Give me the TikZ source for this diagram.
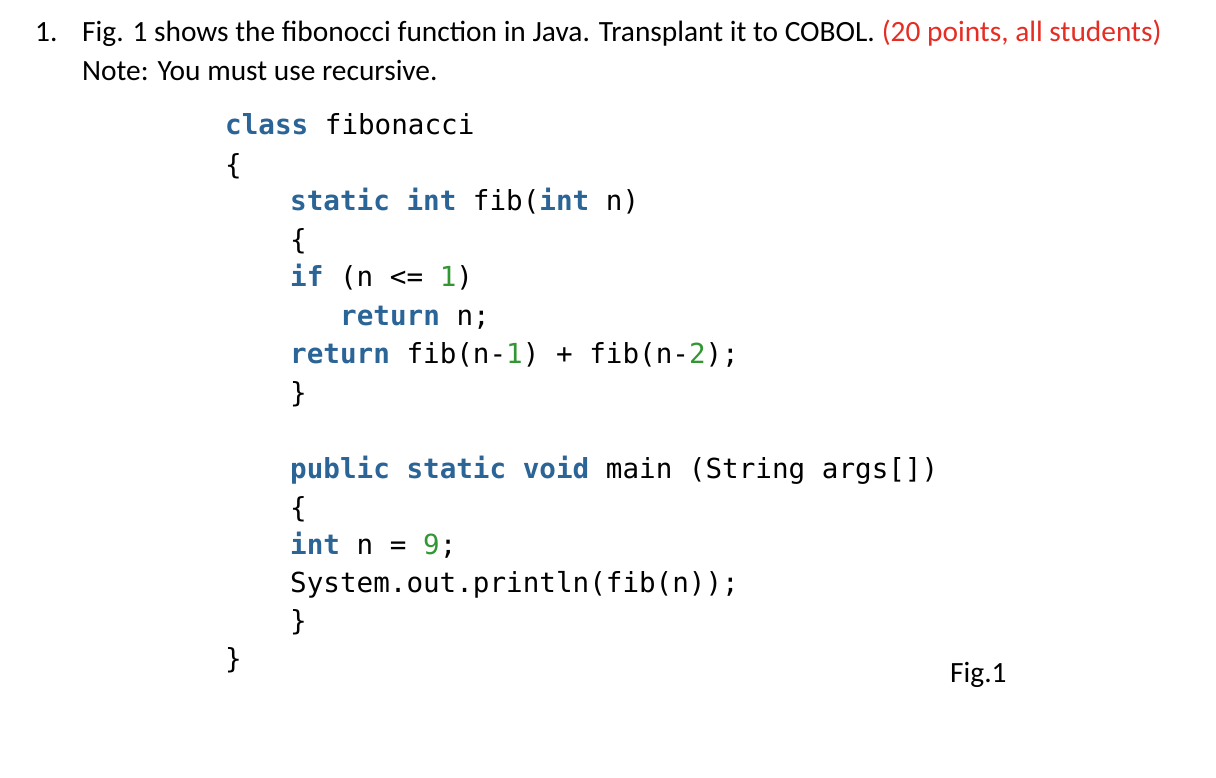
\documentclass[tikz,border=0pt]{standalone}
\usepackage{fontspec}
\setmainfont{Carlito}
\newfontfamily\codefont{DejaVu Sans Mono}
\definecolor{kw}{RGB}{43,100,150}
\definecolor{num}{RGB}{50,150,50}
\definecolor{redt}{RGB}{230,45,35}
\newcommand{\kw}[1]{\textcolor{kw}{\bfseries #1}}
\newcommand{\nm}[1]{\textcolor{num}{#1}}
\begin{document}
\begin{tikzpicture}[x=1pt,y=-1pt,
  txt/.style={anchor=base west,inner sep=0pt,font=\fontsize{29.4}{32}\selectfont},
  code/.style={anchor=base west,inner sep=0pt,font=\codefont\fontsize{27.6}{30}\selectfont}]
\useasboundingbox[fill=white] (0,0) rectangle (1216,778);
\node[txt] (n1) at (35,42) {1.};
\node[txt] (t1) at (82,42) {Fig. 1 shows the fibonocci function in Java. Transplant it to COBOL. \textcolor{redt}{(20 points, all students)}};
\node[txt] (t2) at (82,81) {Note: You must use recursive.};
\node[code] (c1) at (225,135) {\kw{class} fibonacci};
\node[code] (c2) at (225,175) {\{};
\node[code] (c3) at (290,211) {\kw{static} \kw{int} fib(\kw{int} n)};
\node[code] (c4) at (290,250) {\{};
\node[code] (c5) at (290,287) {\kw{if} (n <= \nm{1})};
\node[code] (c6) at (340,325) {\kw{return} n;};
\node[code] (c7) at (290,363) {\kw{return} fib(n-\nm{1}) + fib(n-\nm{2});};
\node[code] (c8) at (290,402) {\}};
\node[code] (c9) at (290,478) {\kw{public} \kw{static} \kw{void} main (String args[])};
\node[code] (c10) at (290,517) {\{};
\node[code] (c11) at (290,554) {\kw{int} n = \nm{9};};
\node[code] (c12) at (290,592) {System.out.println(fib(n));};
\node[code] (c13) at (290,630) {\}};
\node[code] (c14) at (225,668) {\}};
\node[txt] (f1) at (950,682) {Fig.1};
\end{tikzpicture}
\end{document}
